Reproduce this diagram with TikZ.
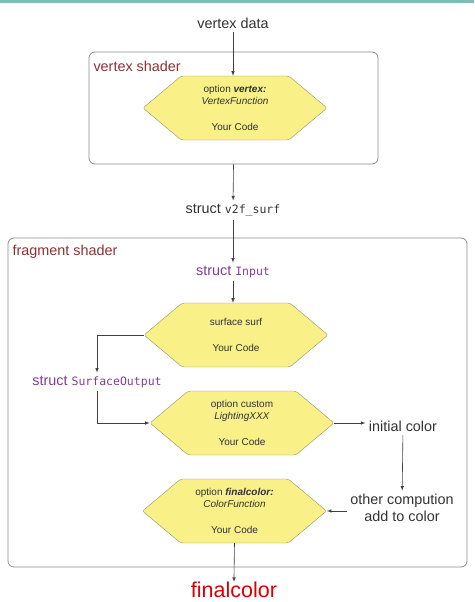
\documentclass[tikz,border=0pt]{standalone}
\usepackage{fontspec}
\setmainfont{Liberation Sans}
\newfontfamily\codefont{DejaVu Sans Mono}
\usetikzlibrary{shapes.symbols}
\definecolor{hexfill}{RGB}{249,240,135}
\definecolor{hexline}{RGB}{150,145,110}
\definecolor{framecol}{RGB}{140,140,140}
\definecolor{shadercol}{RGB}{140,50,50}
\definecolor{structcol}{RGB}{130,60,150}
\definecolor{textcol}{RGB}{50,50,50}
\definecolor{topbar}{RGB}{125,190,180}
\begin{document}
\begin{tikzpicture}[x=1pt, y=-1pt,
    hexbox/.style={signal, signal to=west and east, signal from=nowhere,
      signal pointer angle=80, draw=hexline, fill=hexfill, rounded corners=2pt,
      minimum width=184pt, minimum height=64pt, inner sep=0pt, align=center,
      text=textcol, font=\fontsize{10}{12}\selectfont},
    shaderbox/.style={draw=framecol, rounded corners=6pt, line width=0.8pt},
    lbl/.style={text=textcol, font=\fontsize{14.4}{17}\selectfont, align=center},
    shaderlbl/.style={text=shadercol, font=\fontsize{14.4}{17}\selectfont, anchor=west},
    structlbl/.style={text=structcol, font=\fontsize{14.4}{17}\selectfont},
    flow/.style={->, >=latex, draw=black!75, line width=0.6pt}]
    \useasboundingbox (0,0) rectangle (474,602);
    \fill[topbar] (0,0) rectangle (474,3);
    \node[shaderbox, minimum width=289pt, minimum height=112pt] (vbox) at (233.5,108) {};
    \node[shaderbox, minimum width=459pt, minimum height=329pt] (fbox) at (237.5,402.5) {};
    \node[shaderlbl] (vlbl) at (90,66) {vertex shader};
    \node[shaderlbl] (flbl) at (9,252) {fragment shader};
    \node[lbl] (vdata) at (233,23) {vertex data};
    \node[hexbox] (vert) at (235,108) {option \textbf{\textit{vertex:}}\\ \textit{VertexFunction}\\[14pt] Your Code};
    \node[lbl] (v2f) at (233,210) {struct {\codefont\fontsize{11.5}{14}\selectfont v2f\_surf}};
    \node[structlbl] (input) at (233,272) {struct {\codefont\fontsize{11.5}{14}\selectfont Input}};
    \node[hexbox] (surf) at (236,335) {surface surf\\[14pt] Your Code};
    \node[structlbl] (sout) at (97,382) {struct {\codefont\fontsize{11.5}{14}\selectfont SurfaceOutput}};
    \node[hexbox] (light) at (242,423) {option custom\\ \textit{LightingXXX}\\[14pt] Your Code};
    \node[lbl] (initc) at (403,426) {initial color};
    \node[lbl] (other) at (402,508) {other compution\\ add to color};
    \node[hexbox] (fcol) at (234.5,511) {option \textbf{\textit{finalcolor:}}\\ \textit{ColorFunction}\\[14pt] Your Code};
    \node[text=red!85!black, font=\fontsize{21.5}{24}\selectfont, anchor=base] (final) at (234,597) {finalcolor};
    \draw[flow] (vdata) -- (vdata.south |- vert.north);
    \draw[flow] (vbox.south) -- (v2f);
    \draw[flow] (v2f) -- (input);
    \draw[flow] (input) -- (input.south |- surf.north);
    \draw[flow] (surf.west) -| (sout);
    \draw[flow] (sout) |- (light.west);
    \draw[flow] (light.east) -- (light.east -| initc.west);
    \draw[flow] (initc) -- (other);
    \draw[flow] (other.west |- fcol.east) -- (fcol.east);
    \draw[flow, shorten >=-4pt] (fcol.south) -- (final.north);
\end{tikzpicture}
\end{document}
